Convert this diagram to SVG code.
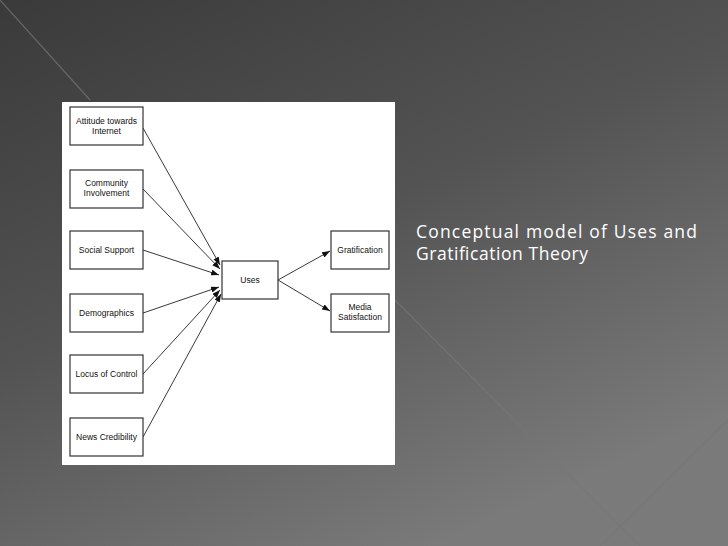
<svg xmlns="http://www.w3.org/2000/svg" width="728" height="546" viewBox="0 0 728 546">
<defs>
<linearGradient id="bg" x1="0" y1="0" x2="0.6" y2="1"><stop offset="0" stop-color="#3a3a3a"/><stop offset="0.5" stop-color="#535353"/><stop offset="1" stop-color="#7a7a7a"/></linearGradient>
<marker id="ah" markerWidth="8" markerHeight="6" refX="8" refY="3" orient="auto" markerUnits="userSpaceOnUse"><path d="M0,0L8,3L0,6z" fill="#111"/></marker>
</defs>
<style>
.b{fill:#fff;stroke:#333;stroke-width:1.2}
.t{font-family:"Liberation Sans",Arial,sans-serif;font-size:8.5px;fill:#111;text-anchor:middle}
.c line{stroke:#222;stroke-width:0.9;marker-end:url(#ah)}
.ti{font-family:"Open Sans","Liberation Sans",sans-serif;font-size:17.5px;fill:#fff}
</style>
<rect width="728" height="546" fill="url(#bg)"/>
<g stroke="#777" stroke-width="1.2" fill="none" opacity="0.7">
<line x1="0" y1="0" x2="90" y2="100"/>
<line x1="395" y1="300" x2="640" y2="546"/>
<line x1="600" y1="546" x2="728" y2="420"/>
</g>
<rect x="62" y="102" width="333" height="363" fill="#fff"/>
<g class="c">
<line x1="143" y1="128" x2="220" y2="265"/>
<line x1="143" y1="189" x2="220" y2="269"/>
<line x1="143" y1="250" x2="219" y2="275"/>
<line x1="143" y1="313" x2="219" y2="287"/>
<line x1="143" y1="374" x2="220" y2="290"/>
<line x1="143" y1="437" x2="221" y2="294"/>
<line x1="278" y1="280" x2="330" y2="251"/>
<line x1="278" y1="280" x2="330" y2="311"/>
</g>
<g id="n1"><rect class="b" x="70" y="107" width="73" height="38"/><text class="t" x="106.5" y="124">Attitude towards</text><text class="t" x="106.5" y="134">Internet</text></g>
<g id="n2"><rect class="b" x="70" y="170" width="73" height="38"/><text class="t" x="106.5" y="186">Community</text><text class="t" x="106.5" y="196">Involvement</text></g>
<g id="n3"><rect class="b" x="70" y="231" width="73" height="38"/><text class="t" x="106.5" y="253">Social Support</text></g>
<g id="n4"><rect class="b" x="70" y="294" width="73" height="38"/><text class="t" x="106.5" y="316">Demographics</text></g>
<g id="n5"><rect class="b" x="70" y="355" width="73" height="38"/><text class="t" x="106.5" y="377">Locus of Control</text></g>
<g id="n6"><rect class="b" x="70" y="418" width="73" height="38"/><text class="t" x="106.5" y="440">News Credibility</text></g>
<g id="uses"><rect class="b" x="222" y="261" width="56" height="38"/><text class="t" x="250" y="283">Uses</text></g>
<g id="grat"><rect class="b" x="331" y="231" width="58" height="38"/><text class="t" x="360" y="253">Gratification</text></g>
<g id="media"><rect class="b" x="331" y="294" width="58" height="38"/><text class="t" x="360" y="310">Media</text><text class="t" x="360" y="320">Satisfaction</text></g>
<text class="ti" x="416" y="238" textLength="281" lengthAdjust="spacing">Conceptual  model of Uses and</text>
<text class="ti" x="416" y="260" textLength="172" lengthAdjust="spacing">Gratification Theory</text>
</svg>
